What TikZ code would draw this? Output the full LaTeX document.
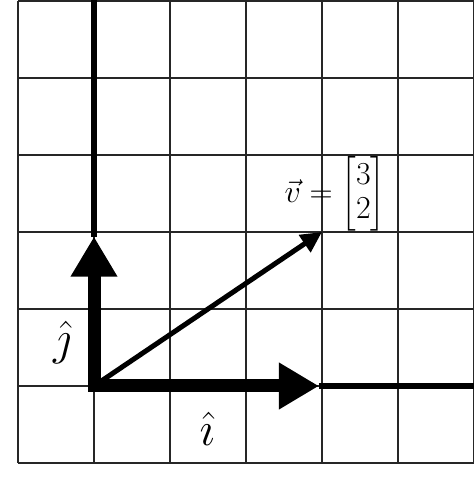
\documentclass[tikz,border=0pt]{standalone}
\usepackage{fix-cm}
\usepackage{amsmath}
\usetikzlibrary{arrows.meta}

\begin{document}
\begin{tikzpicture}[x=76pt,y=77pt,line width=1.5pt,
  axis/.style={line width=6.5pt},
  basis/.style={line width=13pt,line cap=rect,-{Triangle[length=40pt,width=44pt]}},
  big/.style={font=\fontsize{48}{56}\selectfont}]
\useasboundingbox (-1.237,-1.234) rectangle (5.0,5.013);
\foreach \k in {-1,...,5} {
  \draw [black!85] (\k,-1) -- (\k,5);
  \draw [black!85] (-1,\k) -- (5,\k);
}
\coordinate (O) at (0,0); \coordinate (I) at (2.96,0);
\coordinate (J) at (0,1.94); \coordinate (V) at (3,2);
\coordinate (xend) at (5.1,0); \coordinate (yend) at (0,5.1);
% axes
\draw [axis] (J) -- (yend);
\draw [axis] (I) -- (xend);
% basis vectors and v
\draw [basis] (O) -- (I);
\draw [basis] (O) -- (J);
\draw [line width=5pt,-{Triangle[length=21pt,width=20pt]}] (O) -- (V);
\node [big] (jhat) at (-0.42,0.56) {$\hat{\jmath}$};
\node [big] (ihat) at (1.49,-0.55) {$\hat{\imath}$};
\node [font=\fontsize{32}{34}\selectfont] (vlab) at (3.17,2.49)
  {$\vec{v} = \begin{bmatrix} 3 \\ 2 \end{bmatrix}$};
\end{tikzpicture}
\end{document}
